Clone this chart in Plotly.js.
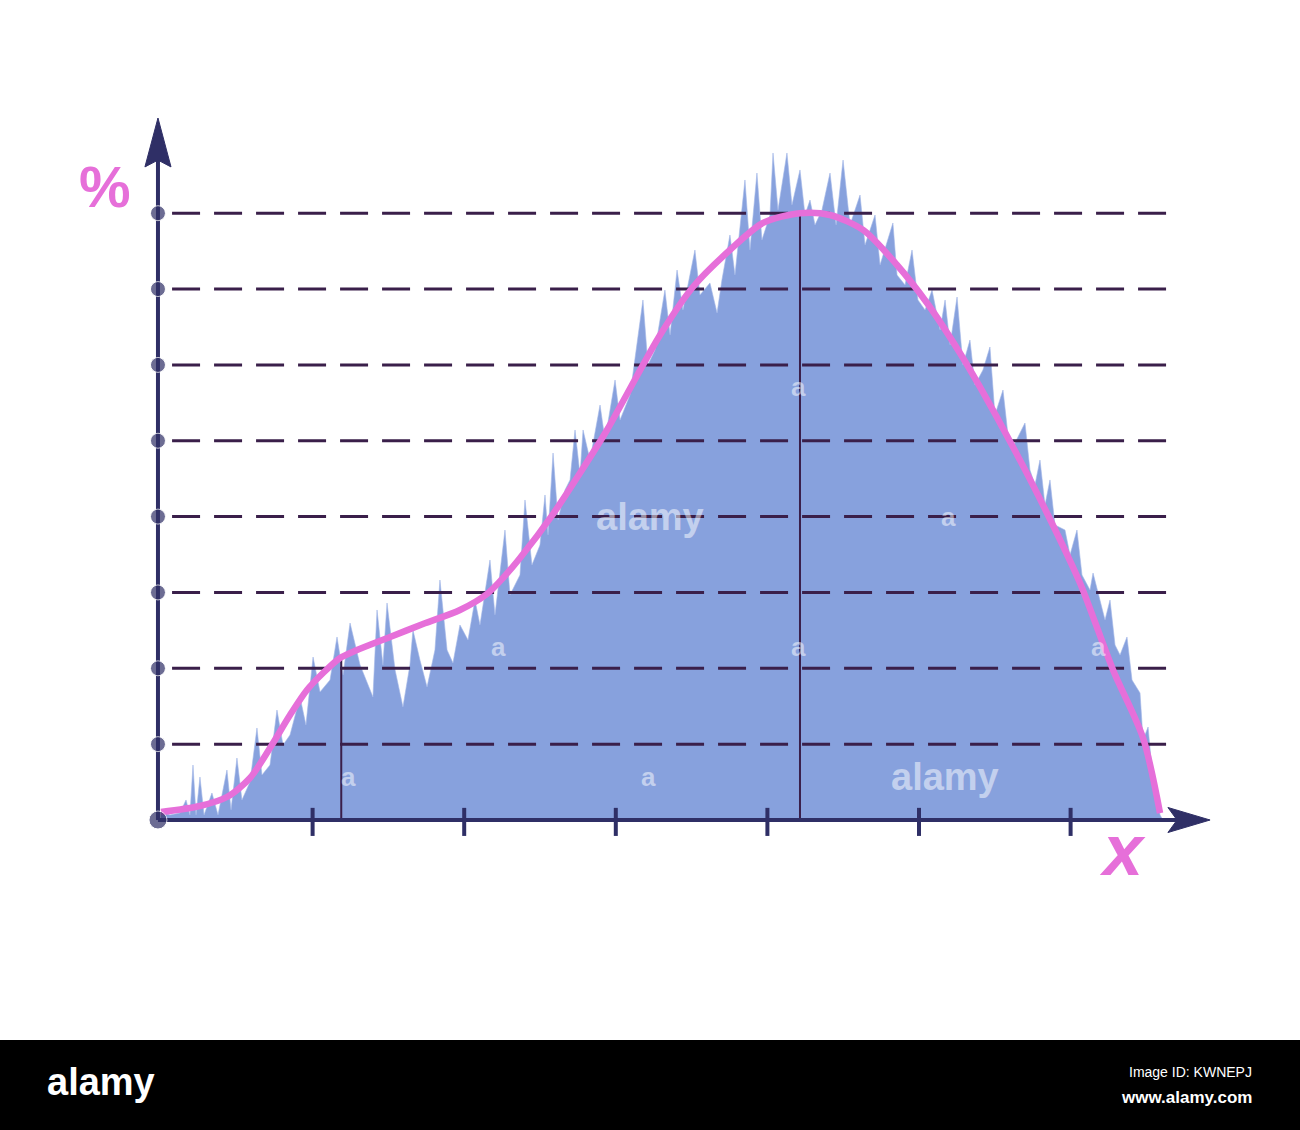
<!DOCTYPE html>
<html>
<head>
<meta charset="utf-8">
<script src="https://cdn.plot.ly/plotly-3.0.1.min.js"></script>
<style>html,body{margin:0;padding:0;background:#fff;}#chart{width:1300px;height:1130px;}</style>
</head>
<body>
<div id="chart"></div>
<script>
// Noisy distribution (blue area): x in tick units, y in percent (gridline every 10 %)
const fillX = [0.000,0.059,0.125,0.165,0.191,0.211,0.231,0.257,0.284,0.336,0.376,0.435,0.462,0.501,0.534,0.587,0.633,0.666,0.719,0.765,0.805,0.851,0.917,0.956,1.003,1.049,1.115,1.161,1.201,1.247,1.313,1.398,1.425,1.464,1.491,1.544,1.596,1.642,1.662,1.708,1.755,1.807,1.840,1.887,1.926,1.972,2.025,2.071,2.104,2.170,2.203,2.269,2.302,2.368,2.401,2.447,2.500,2.533,2.553,2.586,2.619,2.665,2.698,2.731,2.764,2.784,2.830,2.896,2.929,2.995,3.028,3.094,3.179,3.212,3.259,3.324,3.358,3.404,3.443,3.522,3.555,3.621,3.668,3.700,3.753,3.786,3.852,3.885,3.931,3.964,4.017,4.037,4.070,4.129,4.162,4.215,4.248,4.281,4.314,4.360,4.413,4.453,4.499,4.545,4.611,4.644,4.710,4.743,4.828,4.855,4.908,4.954,4.993,5.040,5.086,5.139,5.172,5.205,5.251,5.290,5.336,5.369,5.422,5.468,5.501,5.554,5.587,5.620,5.699,5.732,5.765,5.798,5.831,5.864,5.897,5.963,5.996,6.042,6.075,6.128,6.148,6.194,6.227,6.260,6.293,6.326,6.372,6.405,6.458,6.478,6.511,6.537,6.557,6.590,6.609];
const fillY = [1.05,0.66,0.92,2.64,0.66,7.25,0.66,5.67,0.66,3.56,0.66,6.59,1.32,8.17,2.64,5.01,12.13,5.93,7.25,14.50,9.89,11.21,16.22,12.52,21.49,16.88,18.46,24.13,19.12,25.97,20.44,16.22,27.69,20.44,28.61,19.78,14.90,20.44,25.05,21.09,17.53,22.41,31.64,22.41,20.70,25.71,23.73,29.00,25.71,34.28,27.03,38.23,29.66,32.30,42.19,33.62,36.26,42.85,37.57,48.38,39.55,43.51,44.83,51.42,45.48,51.42,47.46,54.71,50.10,58.01,52.74,56.03,68.56,59.99,61.96,69.87,63.94,72.51,67.24,75.15,69.22,70.80,66.84,71.19,77.13,71.85,84.38,75.15,85.30,76.47,79.76,87.94,80.42,87.94,81.08,85.70,79.76,81.74,78.44,80.42,85.30,78.44,87.01,78.44,82.40,75.81,79.76,73.17,78.71,71.85,70.53,75.15,68.56,67.24,69.87,64.60,68.56,62.62,68.95,59.99,63.28,57.35,59.33,62.36,53.39,56.69,50.76,49.18,52.34,46.14,44.17,47.46,41.53,44.83,38.89,38.23,34.94,38.23,32.30,30.32,32.56,29.00,26.37,29.00,23.07,21.75,24.13,18.46,16.74,10.55,12.26,6.59,4.61,0.66,0];

// Smooth fitted curve (pink)
const curveX = [0.0,0.257,0.435,0.587,0.719,0.851,0.963,1.069,1.181,1.293,1.511,1.728,1.972,2.150,2.256,2.368,2.586,2.764,2.942,3.074,3.292,3.509,3.753,3.971,4.215,4.413,4.631,4.855,5.053,5.270,5.402,5.620,5.844,6.062,6.280,6.478,6.590];
const curveY = [1.05,1.85,3.03,5.54,9.49,13.84,17.14,19.38,21.36,22.41,24.13,25.84,27.69,29.80,31.91,34.54,40.34,45.75,51.42,56.16,63.94,70.27,75.15,78.71,80.0,79.76,77.79,73.17,68.16,61.57,57.09,49.18,40.48,31.25,19.78,10.81,0.92];

// Grid levels (percent) and x ticks
const gridLevels = [10,20,30,40,50,60,70,80];
const dotLevels = [0,10,20,30,40,50,60,70,80];
const xTicks = [1,2,3,4,5,6];

// Marked positions (vertical guide lines): [x, height]
const guideX = [1.189, 4.215];
const guideTop = [21.5, 80.0];

const axisColor = '#2f2f66';
const gridColor = '#3a1f4a';
const pink = '#e66fd9';
const blue = '#87a1dd';

const traces = [];

// blue area
traces.push({x: fillX, y: fillY, type: 'scatter', mode: 'lines', fill: 'tozeroy',
  fillcolor: blue, line: {color: '#a3b7e8', width: 0.6}, hoverinfo: 'skip'});

// dashed gridlines
const gx = [], gy = [];
gridLevels.forEach(v => { gx.push(0.073, 6.656, null); gy.push(v, v, null); });
traces.push({x: gx, y: gy, type: 'scatter', mode: 'lines',
  line: {color: gridColor, width: 3, dash: '28px,14px'}, hoverinfo: 'skip'});

// vertical guide lines
const vx = [], vy = [];
guideX.forEach((g, i) => { vx.push(g, g, null); vy.push(0, guideTop[i], null); });
traces.push({x: vx, y: vy, type: 'scatter', mode: 'lines',
  line: {color: gridColor, width: 2}, hoverinfo: 'skip'});

// pink curve
traces.push({x: curveX, y: curveY, type: 'scatter', mode: 'lines',
  line: {color: pink, width: 6.5, shape: 'spline', smoothing: 0.8}, hoverinfo: 'skip'});

// axes lines
traces.push({x: [-0.02, -0.02, null, -0.02, 6.72], y: [0, 90, null, 0, 0], type: 'scatter', mode: 'lines',
  line: {color: axisColor, width: 4}, hoverinfo: 'skip'});
// x ticks
const tx = [], ty = [];
xTicks.forEach(t => { tx.push(t, t, null); ty.push(1.6, -2.1, null); });
traces.push({x: tx, y: ty, type: 'scatter', mode: 'lines',
  line: {color: axisColor, width: 4}, hoverinfo: 'skip'});
// arrowheads
traces.push({x: [-0.02, 0.066, -0.02, -0.106, -0.02], y: [92.55, 86.1, 87.0, 86.1, 92.55],
  type: 'scatter', mode: 'lines', fill: 'toself', fillcolor: axisColor,
  line: {color: axisColor, width: 1}, hoverinfo: 'skip'});
traces.push({x: [6.92, 6.642, 6.702, 6.642, 6.92], y: [0, 1.65, 0, -1.65, 0],
  type: 'scatter', mode: 'lines', fill: 'toself', fillcolor: axisColor,
  line: {color: axisColor, width: 1}, hoverinfo: 'skip'});
// dots on y axis
traces.push({x: dotLevels.map(() => -0.02), y: dotLevels, type: 'scatter', mode: 'markers',
  marker: {color: axisColor, size: dotLevels.map(v => v === 0 ? 18 : 15)}, hoverinfo: 'skip'});

const P = (px) => px / 1300, Q = (py) => 1 - py / 1130;
const narrow = 'Liberation Sans Narrow, Arial Narrow, Liberation Sans, Arial, sans-serif';
const wm = (x, y, t, s) => ({xref: 'paper', yref: 'paper', x: P(x), y: Q(y), text: '<b>' + t + '</b>', showarrow: false,
  font: {family: narrow, size: s, color: 'rgba(255,255,255,0.5)'},
  xanchor: 'center', yanchor: 'middle'});

const annotations = [
  {xref: 'paper', yref: 'paper', x: P(105), y: Q(186), text: '<b>%</b>', showarrow: false,
   font: {family: 'Liberation Sans, Arial, sans-serif', size: 58, color: pink}, xanchor: 'center', yanchor: 'middle'},
  {xref: 'paper', yref: 'paper', x: P(1122), y: Q(850), text: '<b><i>x</i></b>', showarrow: false,
   font: {family: 'Liberation Sans, Arial, sans-serif', size: 72, color: pink}, xanchor: 'center', yanchor: 'middle'},
  wm(650, 517, 'alamy', 38), wm(945, 777, 'alamy', 38),
  wm(798, 387, 'a', 26), wm(948, 517, 'a', 26), wm(498, 647, 'a', 26), wm(798, 647, 'a', 26),
  wm(348, 777, 'a', 26), wm(648, 777, 'a', 26), wm(1098, 647, 'a', 26),
  {xref: 'paper', yref: 'paper', x: P(101), y: Q(1082), text: '<b>alamy</b>', showarrow: false,
   font: {family: narrow, size: 38, color: '#ffffff'}, xanchor: 'center', yanchor: 'middle'},
  {xref: 'paper', yref: 'paper', x: P(1254), y: Q(1072), text: 'Image ID: KWNEPJ', showarrow: false,
   font: {family: narrow, size: 14, color: '#ffffff'}, xanchor: 'right', yanchor: 'middle'},
  {xref: 'paper', yref: 'paper', x: P(1254), y: Q(1097), text: '<b>www.alamy.com</b>', showarrow: false,
   font: {family: narrow, size: 17, color: '#ffffff'}, xanchor: 'right', yanchor: 'middle'}
];

const layout = {
  width: 1300, height: 1130,
  margin: {l: 0, r: 0, t: 0, b: 0, pad: 0},
  paper_bgcolor: '#ffffff', plot_bgcolor: '#ffffff',
  showlegend: false,
  xaxis: {range: [-1.0620, 7.5132], visible: false, fixedrange: true},
  yaxis: {range: [-40.870, 108.108], visible: false, fixedrange: true},
  shapes: [
    {type: 'rect', xref: 'paper', yref: 'paper', x0: 0, x1: 1, y0: 0, y1: 90 / 1130,
     fillcolor: '#000000', line: {width: 0}, layer: 'below'}
  ],
  annotations: annotations
};

Plotly.newPlot('chart', traces, layout, {staticPlot: true, displayModeBar: false});
</script>
</body>
</html>
